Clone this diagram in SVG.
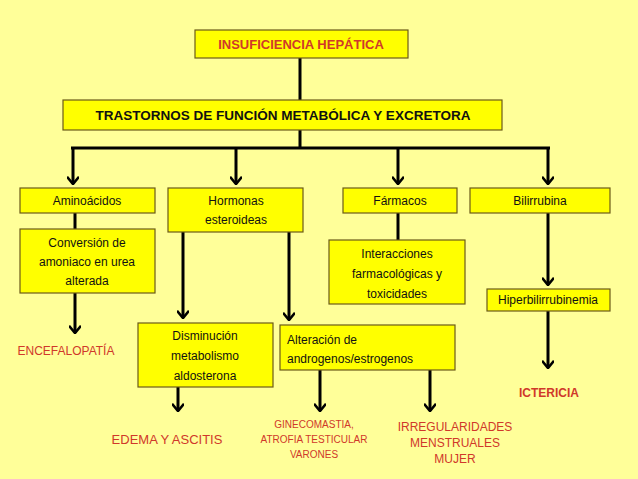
<svg xmlns="http://www.w3.org/2000/svg" width="638" height="479" viewBox="0 0 638 479">
<style>
.b{fill:#ffff00;stroke:#6b5a1a;stroke-width:1.2}
.t{font-family:"Liberation Sans",Arial,sans-serif;font-size:12px;fill:#111;text-anchor:middle}
.s{text-anchor:start}
.tb{font-weight:bold}
.r{font-family:"Liberation Sans",Arial,sans-serif;fill:#d0382a;text-anchor:middle}
.c{stroke:#000;stroke-width:3;fill:none}
</style>
<defs>
<marker id="m" viewBox="0 0 10 10" refX="9" refY="5" markerWidth="4" markerHeight="4" orient="auto" markerUnits="strokeWidth"><path d="M3,0 L9,5 L3,10" fill="none" stroke="#000" stroke-width="2.2"/></marker></defs>
<rect width="638" height="479" fill="#ffff99"/>
<g id="connectors">
<path class="c" d="M300,58V100"/>
<path class="c" d="M300,130V148M71,148H550"/>
<path class="c" d="M73,148V184" marker-end="url(#m)"/>
<path class="c" d="M236,148V184" marker-end="url(#m)"/>
<path class="c" d="M398,148V184" marker-end="url(#m)"/>
<path class="c" d="M548,148V184" marker-end="url(#m)"/>
<path class="c" d="M75,213V229"/>
<path class="c" d="M75,293V333" marker-end="url(#m)"/>
<path class="c" d="M183,232V318" marker-end="url(#m)"/>
<path class="c" d="M289,232V320" marker-end="url(#m)"/>
<path class="c" d="M178,387V411" marker-end="url(#m)"/>
<path class="c" d="M320,370V411" marker-end="url(#m)"/>
<path class="c" d="M430,370V411" marker-end="url(#m)"/>
<path class="c" d="M398,213V240"/>
<path class="c" d="M548,213V285" marker-end="url(#m)"/>
<path class="c" d="M548,311V368" marker-end="url(#m)"/>
</g>
<g id="n1"><rect class="b" x="195" y="30" width="213" height="28"/><text class="r tb" x="301" y="49" font-size="13" font-weight="bold">INSUFICIENCIA HEPÁTICA</text></g>
<g id="n2"><rect class="b" x="63" y="100" width="439" height="30"/><text class="t tb" x="283" y="120" style="font-size:13.5px">TRASTORNOS DE FUNCIÓN METABÓLICA Y EXCRETORA</text></g>
<g id="n3"><rect class="b" x="20" y="188" width="135" height="25"/><text class="t" x="87" y="205">Aminoácidos</text></g>
<g id="n4"><rect class="b" x="168" y="188" width="135" height="44"/><text class="t" x="236" y="205">Hormonas</text><text class="t" x="236" y="224">esteroideas</text></g>
<g id="n5"><rect class="b" x="343" y="188" width="114" height="25"/><text class="t" x="400" y="205">Fármacos</text></g>
<g id="n6"><rect class="b" x="470" y="188" width="140" height="25"/><text class="t" x="540" y="205">Bilirrubina</text></g>
<g id="n7"><rect class="b" x="20" y="229" width="135" height="64"/><text class="t" x="87" y="247">Conversión de</text><text class="t" x="87" y="266">amoniaco en urea</text><text class="t" x="87" y="285">alterada</text></g>
<g id="n8"><rect class="b" x="329" y="240" width="136" height="64"/><text class="t" x="397" y="258">Interacciones</text><text class="t" x="397" y="278">farmacológicas y</text><text class="t" x="397" y="298">toxicidades</text></g>
<g id="n9"><rect class="b" x="487" y="289" width="123" height="22"/><text class="t" x="548" y="304">Hiperbilirrubinemia</text></g>
<g id="n10"><rect class="b" x="138" y="323" width="135" height="64"/><text class="t" x="205" y="340">Disminución</text><text class="t" x="205" y="360">metabolismo</text><text class="t" x="205" y="380">aldosterona</text></g>
<g id="n11"><rect class="b" x="280" y="325" width="175" height="45"/><text class="t s" x="287" y="344">Alteración  de</text><text class="t s" x="287" y="363">androgenos/estrogenos</text></g>
<g id="labels">
<text class="r" x="66" y="355" font-size="12">ENCEFALOPATÍA</text>
<text class="r" x="167" y="444" font-size="13">EDEMA Y ASCITIS</text>
<text class="r" x="314" y="428" font-size="10">GINECOMASTIA,</text>
<text class="r" x="314" y="443" font-size="10">ATROFIA TESTICULAR</text>
<text class="r" x="314" y="458" font-size="10">VARONES</text>
<text class="r" x="455" y="431" font-size="12">IRREGULARIDADES</text>
<text class="r" x="455" y="447" font-size="12">MENSTRUALES</text>
<text class="r" x="455" y="463" font-size="12">MUJER</text>
<text class="r" x="549" y="397" font-size="12" font-weight="bold">ICTERICIA</text>
</g>
</svg>
